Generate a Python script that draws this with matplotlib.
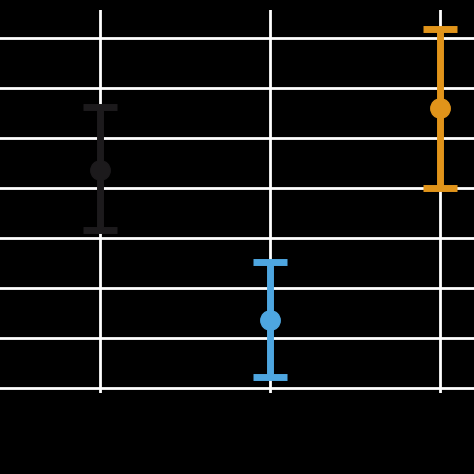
import matplotlib
matplotlib.use('Agg')
import matplotlib.pyplot as plt

# data
groups = ["A", "B", "C"]
means = [4.36, 1.36, 5.6]
lower = [3.16, 0.22, 4.0]
upper = [5.62, 2.52, 7.18]
colors = ["#1c1a1c", "#4ea6e0", "#e1941a"]

fig = plt.figure(figsize=(4.74, 4.74), dpi=100, facecolor="black")
ax = fig.add_axes([0, 81 / 474, 1, (393 - 10) / 474])
ax.set_facecolor("black")

for i, (m, lo, hi, c) in enumerate(zip(means, lower, upper, colors)):
    ax.errorbar(i, m, yerr=[[m - lo], [hi - m]], fmt="o", color=c,
                ms=14, elinewidth=5, capsize=12.5, capthick=5, zorder=3)

ax.set_xlim(-100 / 170, 374 / 170)
ax.set_ylim(-0.1, 378 / 50)
ax.set_xticks(range(len(groups)))
ax.set_xticklabels(groups, color="black")
ax.set_yticks(range(0, 8))
ax.tick_params(axis="x", colors="white", length=0, labelcolor="black")
ax.tick_params(axis="y", length=0, labelleft=False)
ax.grid(True, color="white", linewidth=2, zorder=1)
ax.set_axisbelow(True)
for s in ax.spines.values():
    s.set_visible(False)

fig.savefig("out.png", facecolor="black")
